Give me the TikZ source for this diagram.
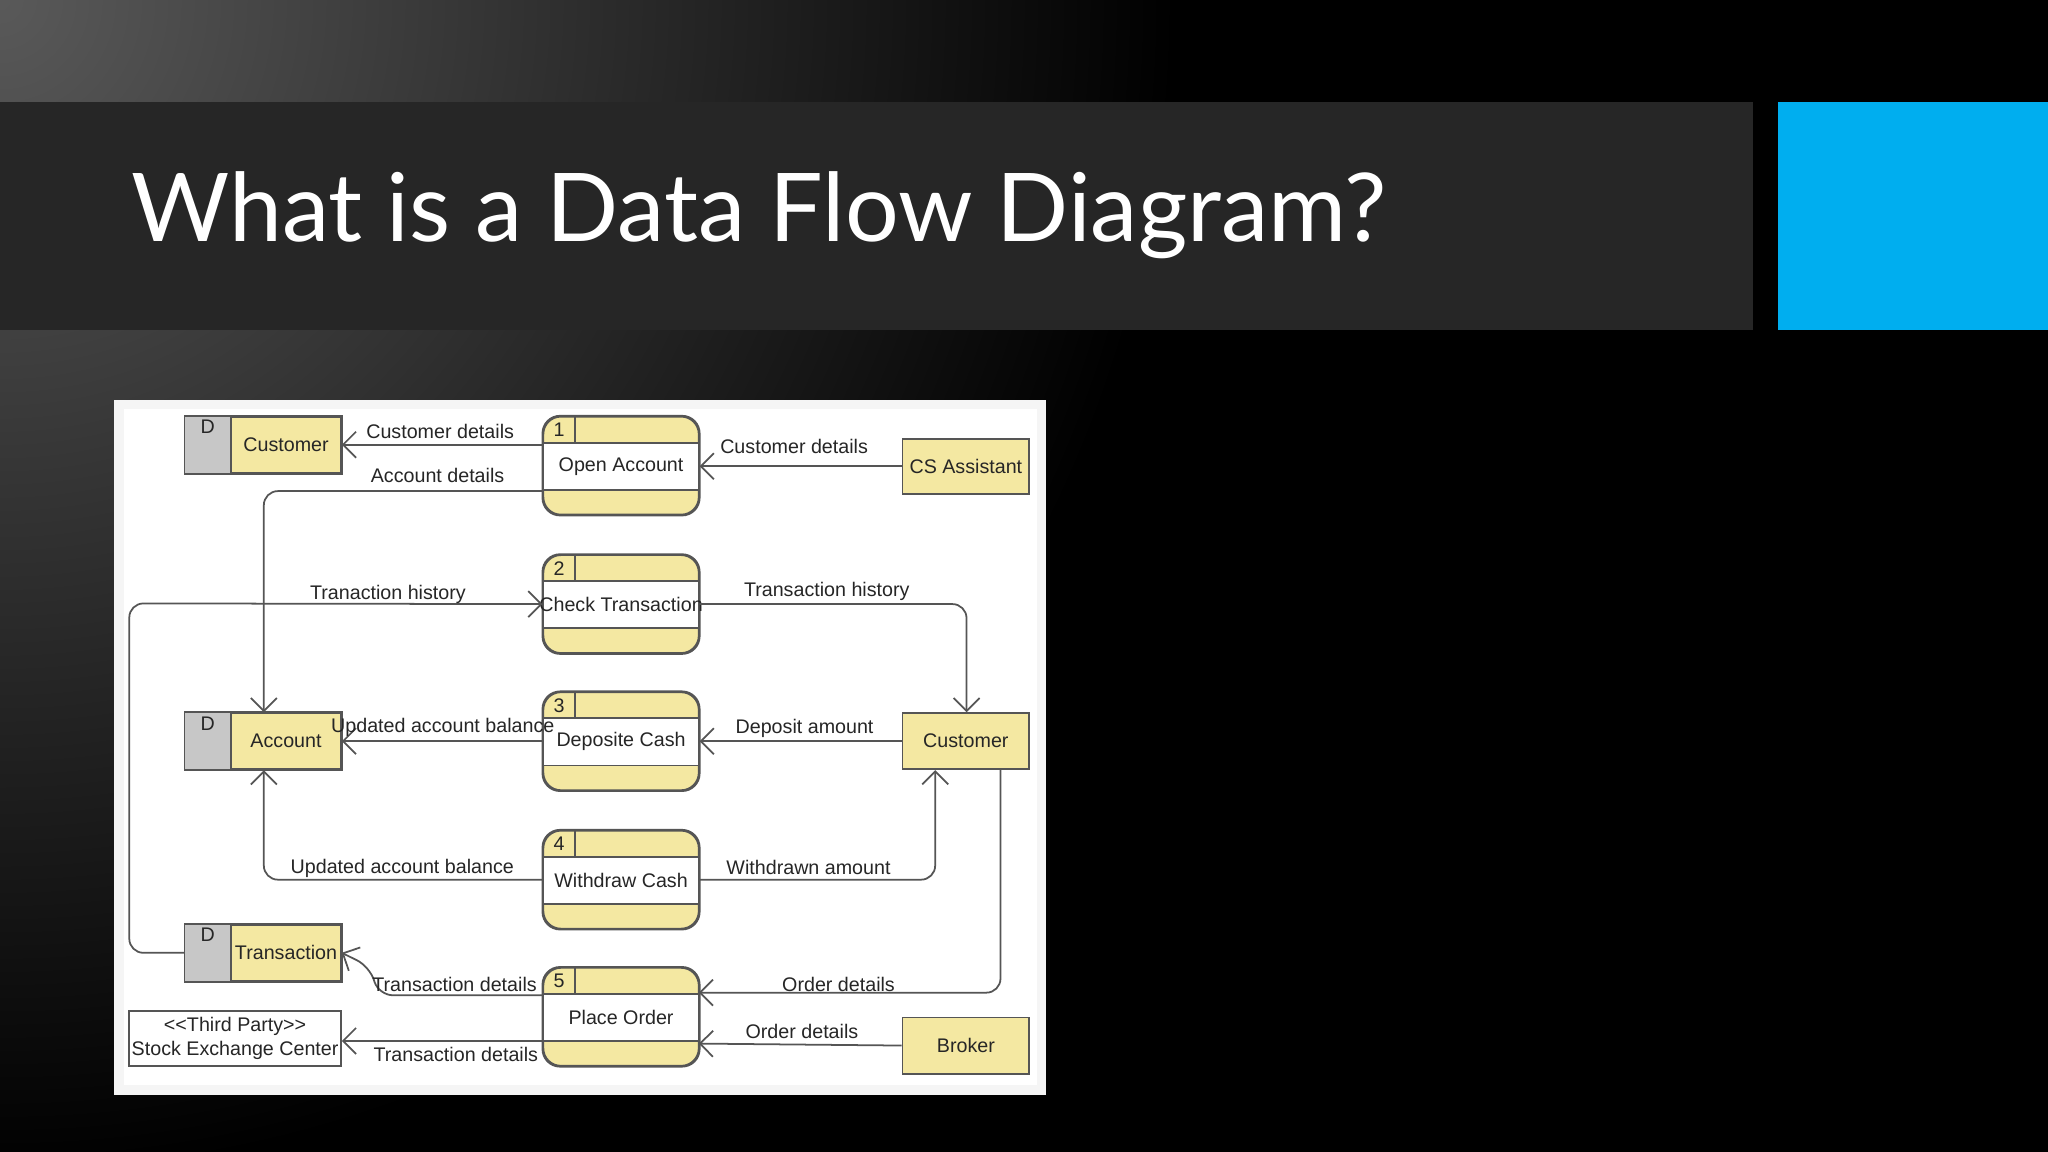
\documentclass[tikz,border=0pt]{standalone}
\usepackage{fontspec}
\setmainfont{Lato}
\newfontfamily\dfont{Liberation Sans}
\usetikzlibrary{fit,arrows.meta}
\definecolor{yel}{HTML}{F4E8A2}
\definecolor{ln}{HTML}{555555}
\definecolor{bar}{HTML}{262626}
\definecolor{blu}{HTML}{00AEEF}
\tikzset{
  box/.style={draw=ln, line width=0.5pt, inner sep=0pt},
  arr/.style={draw=ln, line width=0.5pt, -{Straight Barb[length=1.3mm,width=2.6mm]}, rounded corners=4pt},
  lbl/.style={font=\dfont\fontsize{5.6}{6}\selectfont, text=black!85, inner sep=0.5pt},
}
\newcommand\proc[4]{%
  \node[box, fill=yel, rounded corners=5pt, fit={(416,#4) (535,{#4+75})}] (#1) {};
  \fill[white] (416.3,{#4+20}) rectangle (534.7,{#4+56});
  \draw[ln, line width=0.5pt] (416,{#4+20}) -- (535,{#4+20}) (416,{#4+56}) -- (535,{#4+56}) (440,#4) -- (440,{#4+20});
  \draw[ln, line width=0.5pt, rounded corners=5pt] (#1.south west) rectangle (#1.north east);
  \node[lbl] at (428,{#4+10}) {#2};
  \node[lbl] at (475.5,{#4+38}) {#3};
}
\newcommand\store[3]{%
  \node[box, fill=yel, fit={(142,#3) (261,{#3+43})}] (#1) {};
  \fill[black!22] (142,#3) rectangle (177,{#3+43});
  \draw[ln, line width=0.5pt] (177,#3) -- (177,{#3+43});
  \draw[ln, line width=0.5pt] (#1.south west) rectangle (#1.north east);
  \node[lbl] at (159,{#3+8}) {D};
  \node[lbl] at (219,{#3+21.5}) {#2};
}
\begin{document}
\begin{tikzpicture}[x=0.013061cm, y=-0.013061cm]
\useasboundingbox (0,0) rectangle (1568,882);
\fill[black] (0,0) rectangle (1568,882);
\shade[inner color=black!65, outer color=black] (0,0) circle (900);
\fill[black] (1342,0) rectangle (1568,882);
\fill[bar] (0,78) rectangle (1342,253);
\fill[blu] (1361,78) rectangle (1568,253);
\node[anchor=base west, text=white, font=\fontsize{27}{30}\selectfont, inner sep=0] (title) at (100,185) {What is a Data Flow Diagram?};
% diagram panel
\fill[black!4] (87,306) rectangle (801,838);
\fill[white] (95,313) rectangle (794,831);
\proc{p1}{1}{Open Account}{319}
\proc{p2}{2}{Check Transaction}{425}
\proc{p3}{3}{Deposite Cash}{530}
\proc{p4}{4}{Withdraw Cash}{636}
\proc{p5}{5}{Place Order}{741}
\store{sc}{Customer}{319}
\store{sa}{Account}{546}
\store{st}{Transaction}{708}
\node[box, fill=yel, fit={(691,336) (788,378)}] (cs) {};
\node[lbl] at (cs.center) {CS Assistant};
\node[box, fill=yel, fit={(691,546) (788,589)}] (cu) {};
\node[lbl] at (cu.center) {Customer};
\node[box, fill=yel, fit={(691,779) (788,822)}] (br) {};
\node[lbl] at (br.center) {Broker};
\node[box, fill=white, fit={(99,774) (261,816)}] (tp) {};
\node[lbl, align=center, font=\dfont\fontsize{5.6}{6.6}\selectfont] at (tp.center) {<{}<Third Party>{}>\\Stock Exchange Center};
% connectors
\draw[arr] (p1.west |- sc.east) -- (sc.east);
\node[lbl] at (337,330) {Customer details};
\draw[arr] (cs.west) -- (p1.east |- cs.west);
\node[lbl] at (608,342) {Customer details};
\draw[arr] (416,376) -| (sa.north -| 202,0);
\node[lbl] at (335,364) {Account details};
\draw[arr] (st.west) -| (99,462) -- (p2.west);
\node[lbl] at (297,455) {Tranaction history};
\draw[arr] (p2.east) -| (cu.north -| 740,0);
\node[lbl] at (633,453) {Transaction history};
\draw[arr] (p3.west) -- (sa.east);
\node[lbl] at (339,557) {Updated account balance};
\draw[arr] (cu.west) -- (p3.east);
\node[lbl] at (616,558) {Deposit amount};
\draw[arr] (p4.west) -| (sa.south -| 202,0);
\node[lbl] at (308,665) {Updated account balance};
\draw[arr] (p4.east) -| (cu.south -| 716,0);
\node[lbl] at (619,664) {Withdrawn amount};
\draw[arr] (416,762) -- (290,762) -- (283,740) -- (st.east);
\node[lbl] at (348,754) {Transaction details};
\draw[arr] (cu.south -| 766,0) |- (535,760);
\node[lbl] at (642,754) {Order details};
\draw[arr] (416,797) -- (tp.east |- 0,797);
\node[lbl] at (349,807) {Transaction details};
\draw[arr] (br.west) -- (535,799);
\node[lbl] at (614,790) {Order details};
\end{tikzpicture}
\end{document}
